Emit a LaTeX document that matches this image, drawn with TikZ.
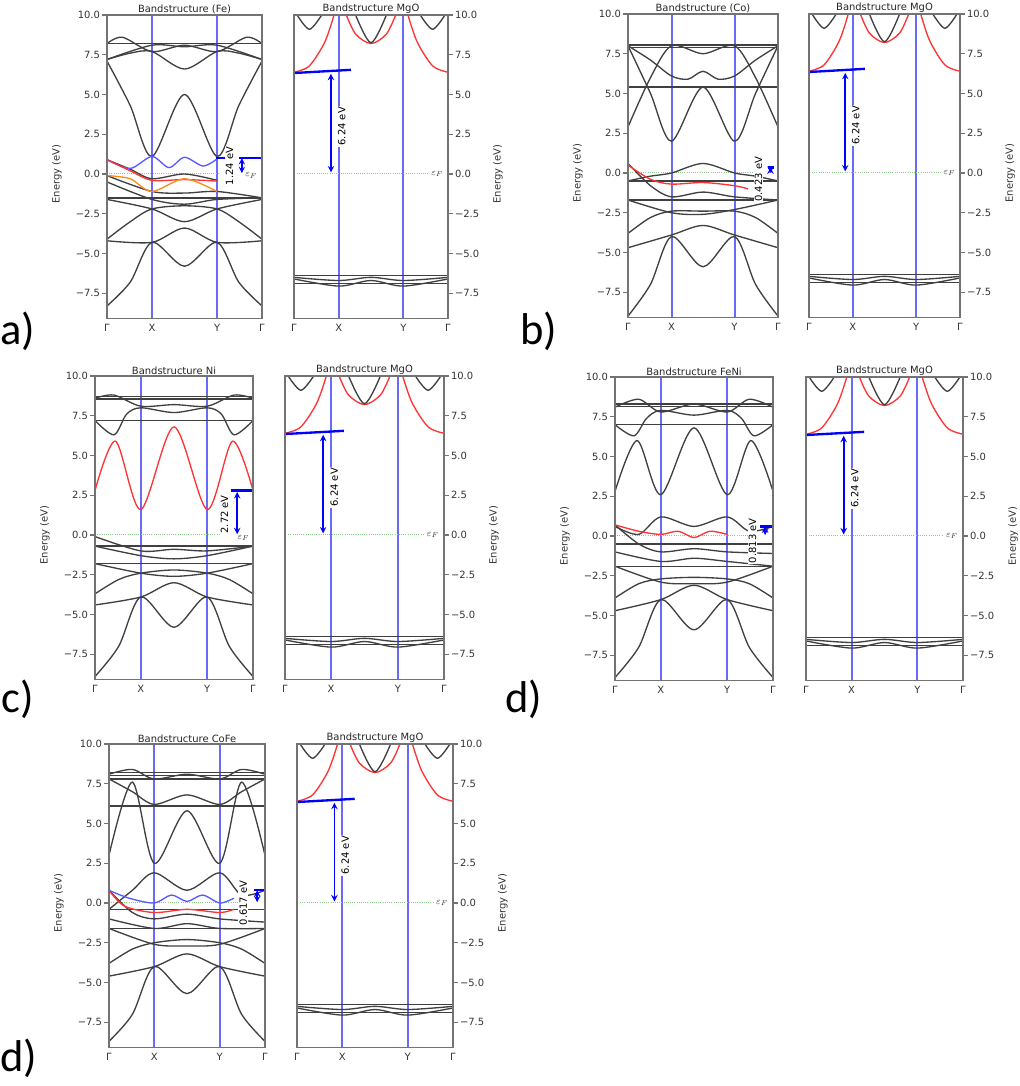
\documentclass[tikz,border=0pt]{standalone}
\usepackage{fontspec}
\setmainfont{DejaVu Sans}
\newfontfamily\labfont{Carlito}
\definecolor{vb}{RGB}{105,105,250}
\tikzset{
 panel/.style n args={3}{xshift=#1*0.3mm, yshift={(1086-#2)*0.3mm}, x=#3*0.3mm, y=4.77mm},
 frm/.style={draw=black!55, line width=0.35mm},
 vline/.style={draw=vb, line width=0.6mm},
 band/.style={draw=black!75, line width=0.4mm},
 rband/.style={draw=red!80, line width=0.4mm},
 bband/.style={draw=blue!65, line width=0.4mm},
 oband/.style={draw=orange!90, line width=0.4mm},
 ef/.style={draw=green!55!black!45, line width=0.3mm, densely dotted},
 gap/.style={draw=blue, line width=0.5mm, <->, >=stealth},
 edge/.style={draw=blue, line width=0.7mm},
 tl/.style={font=\fontsize{8.5}{9}\selectfont, text=black!80},
 ttl/.style={font=\fontsize{8.5}{9}\selectfont, text=black!85},
 plab/.style={font=\labfont\fontsize{38}{40}\selectfont},
 elab/.style={font=\fontsize{8.5}{9}\selectfont, fill=white, inner sep=1pt, rotate=90}
}
\newcommand\vlines{\draw[vline] (.29,-9.1)--(.29,10) (.71,-9.1)--(.71,10);}
\newcommand\kpts{\foreach \p/\l in {0/Γ,.29/X,.71/Y,1/Γ} \node[tl,below] at (\p,-9.2) {\l};}
\newcommand\metalframe[1]{%
 \draw[frm] (0,-9.1) rectangle (1,10);
 \foreach \v/\l in {10/10.0,7.5/7.5,5/5.0,2.5/2.5,0/0.0,-2.5/−2.5,-5/−5.0,-7.5/−7.5}
   {\draw[frm] (0,\v)--++(-4pt,0) node[left,tl,inner sep=1.5pt]{\l};}
 \kpts
 \node[tl,rotate=90] at ([xshift=-15mm]0,0) {Energy (eV)};
 \node[ttl,above,inner sep=1pt] at (.5,10) {#1};}
\newcommand\mgo{%
 \vlines
 \draw[ef] (0.02,0)--(0.87,0);
 \node[tl] at (0.93,0) {$\varepsilon_F$};
 \draw[rband] plot[smooth] coordinates {(0,6.4)(.1,6.8)(.2,8.3)(.26,10)};
 \draw[rband] plot[smooth] coordinates {(.34,10)(.4,8.8)(.5,8.2)(.6,8.8)(.66,10)};
 \draw[rband] plot[smooth] coordinates {(.74,10)(.8,8.3)(.9,6.8)(1,6.4)};
 \draw[band] plot[smooth] coordinates {(.02,10)(.1,9.1)(.18,10)};
 \draw[band] plot[smooth] coordinates {(.4,10)(.5,8.25)(.6,10)};
 \draw[band] plot[smooth] coordinates {(.82,10)(.9,9.1)(.98,10)};
 \draw[band] (0,-6.4)--(1,-6.4) (0,-6.9)--(1,-6.9);
 \draw[band] plot[smooth] coordinates {(0,-6.5)(.29,-6.7)(.5,-6.5)(.71,-6.7)(1,-6.5)};
 \draw[band] plot[smooth] coordinates {(0,-6.6)(.29,-7.05)(.5,-6.7)(.71,-7.05)(1,-6.6)};
 \draw[edge] (0,6.35)--(.37,6.55);
 \draw[gap] (.24,6.3)--(.24,0.1);
 \node[elab] at (.31,3) {6.24 eV};
 \draw[frm] (0,-9.1) rectangle (1,10);
 \foreach \v/\l in {10/10.0,7.5/7.5,5/5.0,2.5/2.5,0/0.0,-2.5/−2.5,-5/−5.0,-7.5/−7.5}
   {\draw[frm] (1,\v)--++(4pt,0) node[right,tl,inner sep=1.5pt]{\l};}
 \kpts
 \node[tl,rotate=90] at ([xshift=15mm]1,0) {Energy (eV)};
 \node[ttl,above,inner sep=1pt] at (.5,10) {Bandstructure MgO};}
\newcommand\lowbands{%
 \draw[band] plot[smooth] coordinates {(0,-1.6)(.29,-2.2)(.5,-3.0)(.71,-2.2)(1,-1.6)};
 \draw[band] plot[smooth] coordinates {(0,-4.1)(.15,-3.0)(.29,-2.2)(.5,-2.0)(.71,-2.2)(.85,-3.0)(1,-4.1)};
 \draw[band] plot[smooth] coordinates {(0,-4.2)(.29,-4.3)(.5,-3.4)(.71,-4.3)(1,-4.2)};
 \draw[band] plot[smooth] coordinates {(0,-8.3)(.15,-6.8)(.29,-4.3)(.5,-5.8)(.71,-4.3)(.85,-6.8)(1,-8.3)};}
\begin{document}
\begin{tikzpicture}[x=0.3mm,y=0.3mm]
\useasboundingbox (0,0) rectangle (1019,1086);
% ---------- a) Fe
\begin{scope}[panel={107}{174}{155}]
 \vlines
 \draw[ef] (0,0)--(.72,0);
 \draw[band] (0,8.2)--(1,8.2);
 \draw[band] plot[smooth] coordinates {(0,8.2)(.1,8.6)(.29,7.7)(.5,8.1)(.71,7.7)(.9,8.6)(1,8.2)};
 \draw[band] plot[smooth] coordinates {(0,7.2)(.15,7.6)(.29,7.7)(.5,6.6)(.71,7.7)(.85,7.6)(1,7.2)};
 \draw[band] plot[smooth] coordinates {(0,7.2)(.29,8.1)(.5,8.0)(.71,8.1)(1,7.2)};
 \draw[band] plot[smooth] coordinates {(0,7.1)(.15,4.3)(.29,1.1)(.5,5.0)(.71,1.1)(.85,4.3)(1,7.1)};
 \draw[band] plot[smooth] coordinates {(0,0.9)(.15,0.3)(.29,-0.3)(.5,0)(.71,-0.4)};
 \draw[band] plot[smooth] coordinates {(0,-0.1)(.29,-1.1)(.5,-1.2)(.71,-1.1)(1,-1.5)};
 \draw[band] (0,-1.5)--(1,-1.5);
 \draw[band] plot[smooth] coordinates {(0,-0.5)(.29,-1.6)(.5,-1.9)(.71,-1.6)(1,-1.5)};
 \lowbands
 \draw[bband] plot[smooth] coordinates {(0,0.9)(.15,0.35)(.29,1.1)(.4,0.4)(.5,1.05)(.62,0.5)(.71,0.95)};
 \draw[rband] plot[smooth] coordinates {(0,0.9)(.15,0.2)(.29,-0.4)(.5,-0.35)(.71,-0.45)};
 \draw[oband] plot[smooth] coordinates {(0,-0.1)(.15,-0.3)(.29,-1.1)(.5,-0.3)(.71,-1.1)};
 \draw[edge] (.7,1.0)--(.77,1.0) (.85,1.0)--(1,1.0);
 \draw[gap] (.87,1.0)--(.87,0.05);
 \node[elab] at (.79,0.5) {1.24 eV};
 \node[tl,fill=white,inner sep=0.5pt] at (.93,-0.1) {$\varepsilon_F$};
 \metalframe{Bandstructure (Fe)}
\end{scope}
\begin{scope}[panel={294}{174}{154}] \mgo \end{scope}
% ---------- b) Co
\begin{scope}[panel={628}{173}{150}]
 \vlines
 \draw[ef] (0,0)--(.85,0);
 \draw[band] (0,8.05)--(1,8.05) (0,7.9)--(1,7.9) (0,5.4)--(1,5.4);
 \draw[band] plot[smooth] coordinates {(0,8)(.15,7.1)(.29,6.1)(.4,5.9)(.5,6.4)(.6,5.9)(.71,6.1)(.85,7.1)(1,8)};
 \draw[band] plot[smooth] coordinates {(0,2.9)(.15,6)(.29,8)(.5,7.5)(.71,8)(.85,6)(1,2.9)};
 \draw[band] plot[smooth] coordinates {(0,8)(.15,5)(.29,2)(.5,5.4)(.71,2)(.85,5)(1,8)};
 \draw[band] plot[smooth] coordinates {(0,-0.5)(.15,-0.2)(.29,0)(.5,0.6)(.71,0)(.85,-0.2)(1,-0.5)};
 \draw[band] plot[smooth] coordinates {(0,0.6)(.15,-0.8)(.29,-1.5)(.5,-1.2)(.71,-1.5)(1,-1.7)};
 \draw[band] (0,-0.5)--(1,-0.5) (0,-1.7)--(1,-1.7);
 \draw[band] plot[smooth] coordinates {(0,-1.7)(.29,-2.5)(.5,-2.6)(.71,-2.3)(1,-1.7)};
 \draw[band] plot[smooth] coordinates {(0,-3.8)(.15,-2.8)(.29,-2.4)(.5,-2.4)(.71,-2.4)(.85,-2.8)(1,-3.8)};
 \draw[band] plot[smooth] coordinates {(0,-4.7)(.29,-3.9)(.5,-3.3)(.71,-3.9)(1,-4.7)};
 \draw[band] plot[smooth] coordinates {(0,-9)(.15,-7)(.29,-4)(.5,-5.9)(.71,-4)(.85,-7)(1,-9)};
 \draw[rband] plot[smooth] coordinates {(0,0.5)(.15,-0.4)(.29,-0.7)(.5,-0.6)(.71,-0.8)(.8,-1.0)};
 \draw[edge] (.93,0.35)--(.97,0.35);
 \draw[gap] (.95,0.35)--(.95,0.0);
 \node[elab] at (.87,-0.4) {0.423 eV};
 \metalframe{Bandstructure (Co)}
\end{scope}
\begin{scope}[panel={809}{173}{151}] \mgo \end{scope}
% ---------- c) Ni
\begin{scope}[panel={95}{535}{158}]
 \vlines
 \draw[ef] (0,0)--(.85,0);
 \draw[band] (0,8.7)--(1,8.7) (0,8.55)--(1,8.55) (0,7.2)--(1,7.2);
 \draw[band] plot[smooth] coordinates {(0,8.6)(.12,8.8)(.29,8.1)(.5,8.2)(.71,8.1)(.88,8.8)(1,8.6)};
 \draw[band] plot[smooth] coordinates {(0,7.2)(.12,6.3)(.2,7.6)(.29,8)(.5,7.7)(.71,8)(.8,7.6)(.88,6.3)(1,7.2)};
 \draw[rband] plot[smooth] coordinates {(0,2.8)(.13,5.9)(.29,1.6)(.5,6.8)(.71,1.6)(.87,5.9)(1,2.8)};
 \draw[band] (0,-0.7)--(1,-0.7) (0,-1.8)--(1,-1.8);
 \draw[band] plot[smooth] coordinates {(0,-0.1)(.29,-1.0)(.5,-0.9)(.71,-1.0)(1,-0.7)};
 \draw[band] plot[smooth] coordinates {(0,-0.7)(.29,-1.3)(.5,-1.5)(.71,-1.3)(1,-0.7)};
 \draw[band] plot[smooth] coordinates {(0,-1.8)(.29,-2.4)(.5,-2.6)(.71,-2.4)(1,-1.8)};
 \draw[band] plot[smooth] coordinates {(0,-3.7)(.15,-2.8)(.29,-2.4)(.5,-2.2)(.71,-2.4)(.85,-2.8)(1,-3.7)};
 \draw[band] plot[smooth] coordinates {(0,-4.4)(.29,-3.9)(.5,-3.0)(.71,-3.9)(1,-4.4)};
 \draw[band] plot[smooth] coordinates {(0,-8.9)(.15,-7)(.29,-3.9)(.5,-5.8)(.71,-3.9)(.85,-7)(1,-8.9)};
 \draw[edge] (.86,2.8)--(1,2.8);
 \draw[gap] (.9,2.7)--(.9,0.05);
 \node[elab] at (.82,1.3) {2.72 eV};
 \node[tl,inner sep=0.5pt] at (.94,-0.2) {$\varepsilon_F$};
 \metalframe{Bandstructure Ni}
\end{scope}
\begin{scope}[panel={285}{535}{159}] \mgo \end{scope}
% ---------- d) FeNi
\begin{scope}[panel={615}{536}{158}]
 \vlines
 \draw[ef] (0,0)--(.85,0);
 \draw[band] (0,8.3)--(1,8.3) (0,8.15)--(1,8.15) (0,7.0)--(1,7.0);
 \draw[band] plot[smooth] coordinates {(0,8.1)(.15,8.6)(.29,7.8)(.5,8.3)(.71,7.8)(.85,8.6)(1,8.1)};
 \draw[band] plot[smooth] coordinates {(0,7.0)(.12,6.3)(.2,7.4)(.29,7.9)(.5,7.6)(.71,7.9)(.8,7.4)(.88,6.3)(1,7.0)};
 \draw[band] plot[smooth] coordinates {(0,2.8)(.14,6)(.29,2.6)(.5,6.8)(.71,2.6)(.86,6)(1,2.8)};
 \draw[band] plot[smooth] coordinates {(0,0.6)(.15,0.1)(.29,1.2)(.5,0.6)(.71,1.2)(.85,0.3)(1,0.6)};
 \draw[band] (0,-0.5)--(1,-0.5) (0,-1.9)--(1,-1.9);
 \draw[band] plot[smooth] coordinates {(0,0.7)(.15,-0.5)(.29,-1.0)(.5,-0.8)(.71,-1.0)(1,-1.1)};
 \draw[band] plot[smooth] coordinates {(0,-1.0)(.29,-1.6)(.5,-1.4)(.71,-1.6)(1,-1.9)};
 \draw[band] plot[smooth] coordinates {(0,-1.9)(.29,-2.9)(.5,-3.0)(.71,-2.9)(1,-1.9)};
 \draw[band] plot[smooth] coordinates {(0,-3.9)(.15,-3.0)(.29,-2.7)(.5,-2.6)(.71,-2.7)(.85,-3.0)(1,-3.9)};
 \draw[band] plot[smooth] coordinates {(0,-4.7)(.29,-4)(.5,-3.1)(.71,-4)(1,-4.7)};
 \draw[band] plot[smooth] coordinates {(0,-8.9)(.15,-7)(.29,-4)(.5,-5.9)(.71,-4)(.85,-7)(1,-8.9)};
 \draw[rband] plot[smooth] coordinates {(0,0.7)(.15,0.3)(.29,0.1)(.4,0.3)(.5,-0.1)(.6,0.3)(.71,0.1)};
 \draw[edge] (.92,0.6)--(1,0.6);
 \draw[gap] (.95,0.6)--(.95,0.05);
 \node[elab] at (.87,-0.3) {0.813 eV};
 \metalframe{Bandstructure FeNi}
\end{scope}
\begin{scope}[panel={806}{536}{157}] \mgo \end{scope}
% ---------- e) CoFe
\begin{scope}[panel={109}{903}{156}]
 \vlines
 \draw[ef] (0,0)--(.85,0);
 \draw[band] (0,8.2)--(1,8.2) (0,8.0)--(1,8.0) (0,7.8)--(1,7.8) (0,6.1)--(1,6.1);
 \draw[band] plot[smooth] coordinates {(0,8.1)(.15,8.4)(.29,7.8)(.5,8.1)(.71,7.8)(.85,8.4)(1,8.1)};
 \draw[band] plot[smooth] coordinates {(0,7.8)(.15,7.0)(.29,6.2)(.5,6.8)(.71,6.2)(.85,7.0)(1,7.8)};
 \draw[band] plot[smooth] coordinates {(0,3)(.15,7.6)(.29,2.5)(.5,5.8)(.71,2.5)(.85,7.6)(1,3)};
 \draw[band] plot[smooth] coordinates {(0,-0.4)(.15,0.8)(.29,1.9)(.5,0.8)(.71,1.9)(.85,0.5)(1,0.8)};
 \draw[band] (0,-0.4)--(1,-0.4) (0,-1.6)--(1,-1.6);
 \draw[band] plot[smooth] coordinates {(0,0.8)(.15,-0.6)(.29,-1.0)(.5,-0.7)(.71,-1.0)(1,-1.2)};
 \draw[band] plot[smooth] coordinates {(0,-1.0)(.29,-1.6)(.5,-1.3)(.71,-1.6)(1,-1.6)};
 \draw[band] plot[smooth] coordinates {(0,-1.6)(.29,-2.6)(.5,-2.7)(.71,-2.6)(1,-1.6)};
 \draw[band] plot[smooth] coordinates {(0,-3.8)(.15,-2.9)(.29,-2.5)(.5,-2.3)(.71,-2.5)(.85,-2.9)(1,-3.8)};
 \draw[band] plot[smooth] coordinates {(0,-4.6)(.29,-4)(.5,-3.2)(.71,-4)(1,-4.6)};
 \draw[band] plot[smooth] coordinates {(0,-8.7)(.15,-7)(.29,-4)(.5,-5.7)(.71,-4)(.85,-7)(1,-8.7)};
 \draw[bband] plot[smooth] coordinates {(0,0.8)(.13,0.3)(.29,0.0)(.4,0.5)(.5,0.1)(.6,0.5)(.71,0.0)(.8,0.3)};
 \draw[rband] plot[smooth] coordinates {(0,0.8)(.1,-0.2)(.29,-0.6)(.5,-0.4)(.71,-0.6)(.8,-0.4)};
 \draw[edge] (.93,0.8)--(1,0.8);
 \draw[gap] (.95,0.8)--(.95,0.05);
 \node[elab] at (.86,0.0) {0.617 eV};
 \metalframe{Bandstructure CoFe}
\end{scope}
\begin{scope}[panel={297}{903}{156}] \mgo \end{scope}
% labels
\node[plab] (la) at (18,1086-331) {a)};
\node[plab] (lb) at (539,1086-331) {b)};
\node[plab] (lc) at (18,1086-699) {c)};
\node[plab] (ld) at (524,1086-699) {d)};
\node[plab] (le) at (19,1086-1058) {d)};
\end{tikzpicture}
\end{document}
